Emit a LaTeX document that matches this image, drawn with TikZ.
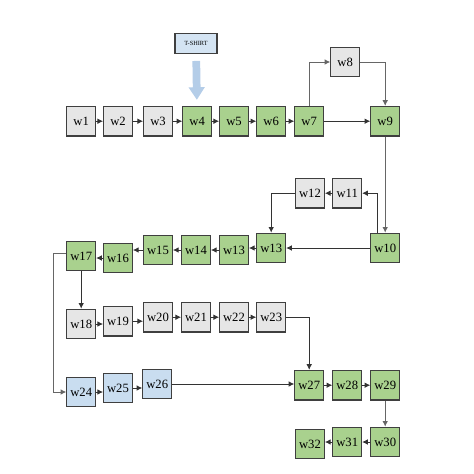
\documentclass[tikz,border=0pt]{standalone}
\usepackage{fontspec}
\setmainfont{Liberation Serif}
\usetikzlibrary{arrows.meta}

\definecolor{wgray}{HTML}{E6E6E6}
\definecolor{wgreen}{HTML}{A9D18E}
\definecolor{wblue}{HTML}{C9DDF0}
\definecolor{wline}{HTML}{3F3F3F}
\definecolor{bigarrow}{HTML}{B4CDE8}

\begin{document}
\begin{tikzpicture}[
  % Node Styles
  wbox/.style={rectangle, draw=wline, line width=0.8pt, minimum width=0.72cm, minimum height=0.74cm, inner sep=1pt, align=center},
  graybox/.style={wbox, fill=wgray},
  greenbox/.style={wbox, fill=wgreen},
  bluebox/.style={wbox, fill=wblue},
  tagbox/.style={rectangle, draw=wline, line width=0.8pt, fill=wblue!80, minimum width=1.05cm, minimum height=0.5cm, font=\fontsize{4.5}{5}\selectfont},
  % Arrow Styles
  flow/.style={-{Latex[length=4pt,width=4pt]}, draw=black!80, line width=0.6pt},
  longflow/.style={-{Latex[length=4pt,width=4pt]}, draw=black!60, line width=0.6pt},
  feed/.style={-{Triangle[width=11pt,length=9pt]}, draw=bigarrow, line width=5.5pt, shorten <=0.18cm, shorten >=0.15cm},
]
\tikzset{font=\small}
\useasboundingbox (0,0) rectangle (11.85,-11.85);

% Row 1
\node[tagbox] (TSHIRT) at (4.90,-1.08) {T-SHIRT};
\node[graybox] (w1) at (2.03,-3.03) {w1};
\node[graybox] (w2) at (2.95,-3.03) {w2};
\node[graybox] (w3) at (3.95,-3.03) {w3};
\node[greenbox] (w4) at (4.93,-3.03) {w4};
\node[greenbox] (w5) at (5.85,-3.03) {w5};
\node[greenbox] (w6) at (6.78,-3.03) {w6};
\node[greenbox] (w7) at (7.73,-3.03) {w7};
\node[graybox] (w8) at (8.63,-1.55) {w8};
\node[greenbox] (w9) at (9.63,-3.03) {w9};

% Row 2
\node[graybox] (w12) at (7.75,-4.83) {w12};
\node[graybox] (w11) at (8.68,-4.83) {w11};
\node[greenbox] (w10) at (9.63,-6.20) {w10};
\node[greenbox] (w13b) at (6.78,-6.20) {w13};
\node[greenbox] (w13a) at (5.85,-6.25) {w13};
\node[greenbox] (w14) at (4.90,-6.25) {w14};
\node[greenbox] (w15) at (3.95,-6.25) {w15};
\node[greenbox] (w16) at (2.95,-6.45) {w16};
\node[greenbox] (w17) at (2.03,-6.40) {w17};

% Row 3
\node[graybox] (w18) at (2.03,-8.10) {w18};
\node[graybox] (w19) at (2.95,-8.03) {w19};
\node[graybox] (w20) at (3.95,-7.93) {w20};
\node[graybox] (w21) at (4.90,-7.93) {w21};
\node[graybox] (w22) at (5.85,-7.93) {w22};
\node[graybox] (w23) at (6.78,-7.93) {w23};

% Row 4
\node[bluebox] (w24) at (2.03,-9.80) {w24};
\node[bluebox] (w25) at (2.95,-9.70) {w25};
\node[bluebox] (w26) at (3.93,-9.60) {w26};
\node[greenbox] (w27) at (7.73,-9.63) {w27};
\node[greenbox] (w28) at (8.68,-9.63) {w28};
\node[greenbox] (w29) at (9.63,-9.63) {w29};

% Row 5
\node[greenbox] (w30) at (9.63,-11.05) {w30};
\node[greenbox] (w31) at (8.68,-11.05) {w31};
\node[greenbox] (w32) at (7.75,-11.10) {w32};

\coordinate (bend17) at (1.33,-6.33);

\draw[feed] (TSHIRT) -- (w4);

\draw[flow] (w1) -- (w2);
\draw[flow] (w2) -- (w3);
\draw[flow] (w3) -- (w4);
\draw[flow] (w4) -- (w5);
\draw[flow] (w5) -- (w6);
\draw[flow] (w6) -- (w7);
\draw[flow] (w7) -- (w9);
\draw[longflow] (w7.north) |- (w8.west);
\draw[longflow] (w8.east) -| (w9.north);
\draw[longflow] (w9.south) -- (w10.north);

\draw[flow] ([xshift=-0.2cm]w10.north) |- (w11.east);
\draw[flow] (w11) -- (w12);
\draw[flow] (w12.west) -| (w13b.north);
\draw[flow] (w10) -- (w13b);
\draw[flow] (w13b.west) -- (w13b.west -| w13a.east);
\draw[flow] (w13a) -- (w14);
\draw[flow] (w14) -- (w15);
\draw[flow] (w15.west) -- (w15.west -| w16.east);
\draw[flow] (w16.west) -- (w16.west -| w17.east);

\draw[flow] (w17.south) -- (w18.north);
\draw[longflow] (w17.west |- bend17) -- (bend17) |- (w24.west);

\draw[flow] (w18.east) -- (w18.east -| w19.west);
\draw[flow] (w19.east) -- (w19.east -| w20.west);
\draw[flow] (w20) -- (w21);
\draw[flow] (w21) -- (w22);
\draw[flow] (w22) -- (w23);
\draw[flow] (w23.east) -| (w27.north);

\draw[flow] (w24.east) -- (w24.east -| w25.west);
\draw[flow] (w25.east) -- (w25.east -| w26.west);
\draw[flow] (w26.east) -- (w26.east -| w27.west);
\draw[flow] (w27) -- (w28);
\draw[flow] (w28) -- (w29);
\draw[longflow] (w29.south) -- (w30.north);
\draw[flow] (w30) -- (w31);
\draw[flow] (w31.west) -- (w31.west -| w32.east);

\end{tikzpicture}
\end{document}
